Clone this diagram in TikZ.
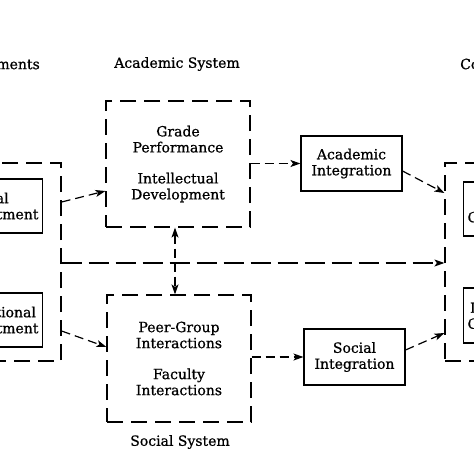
\documentclass[tikz,border=0pt]{standalone}
\usepackage{fontspec}
\setmainfont{DejaVu Serif}[BoldFont=DejaVu Serif, BoldFeatures={FakeBold=0.8}]
\usetikzlibrary{arrows.meta,calc}
\begin{document}
\begin{tikzpicture}[x=1pt,y=-1pt,
  every node/.style={font=\fontsize{14}{16}\selectfont\bfseries},
  tip/.tip={Stealth[length=10pt,width=7pt,inset=2.5pt]},
  dbox/.style={draw, dash pattern=on 16pt off 8pt, line width=1.2pt, inner sep=0, align=center},
  sbox/.style={draw, line width=1.1pt, align=center, inner xsep=4pt, inner ysep=0},
  lbl/.style={inner sep=0, align=center},
  arr/.style={-tip, line width=1.2pt, dash pattern=on 9pt off 5pt},
  darr/.style={tip-tip, line width=1.2pt, dash pattern=on 9pt off 5pt},
  longarr/.style={-tip, line width=1.2pt, dash pattern=on 20pt off 7pt},
]
\useasboundingbox (0,0) rectangle (474,474);
\clip (0,0) rectangle (474,474);
\fill[white] (0,0) rectangle (474,474);

% headers
\node[lbl, anchor=east] (hl) at (40,64) {Commitments};
\node[lbl] (ha) at (177,64) {Academic System};
\node[lbl, anchor=west] (hr) at (460,64) {Commitments};
\node[lbl] (hs) at (180,442) {Social System};

% outer commitment boxes
\node[dbox, minimum width=191pt, minimum height=198pt] (lout) at (-34.5,262) {};
\node[dbox, minimum width=159pt, minimum height=198pt] (rout) at (524.5,262) {};

% inner commitment boxes
\node[sbox, anchor=east, minimum height=54pt] (lg) at (43,206) {Goal\\Commitment};
\node[sbox, anchor=east, minimum height=54pt] (li) at (43,320) {Institutional\\Commitment};
\node[sbox, anchor=west, minimum height=54pt] (rg) at (463,209) {Goal\\Commitment};
\node[sbox, anchor=west, minimum height=55pt] (ri) at (463,315.5) {Institutional\\Commitment};

% systems
\node[dbox, minimum width=144pt, minimum height=126pt] (acad) at (178,164)
  {Grade\\Performance\\[15pt]Intellectual\\Development};
\node[dbox, minimum width=144pt, minimum height=127pt] (soc) at (179,358.5)
  {Peer-Group\\Interactions\\[15pt]Faculty\\Interactions};

% integration
\node[sbox, minimum width=101pt, minimum height=55pt] (ai) at (351.5,163.5) {Academic\\Integration};
\node[sbox, minimum width=101pt, minimum height=56pt] (si) at (354.5,357) {Social\\Integration};

% connectors
\draw[arr] (lout.east |- 0,202) -- (acad.west |- 0,191);
\draw[arr] (lout.east |- 0,331) -- (soc.west |- 0,347);
\draw[arr] (acad.east |- ai.west) -- (ai.west);
\draw[arr] (soc.east |- si.west) -- (si.west);
\draw[arr] (ai.east |- 0,171) -- (rout.west |- 0,193);
\draw[arr] (si.east |- 0,350) -- (rout.west |- 0,333);
\draw[longarr] (lout.east |- 0,263) -- (rout.west |- 0,263);
\draw[darr] (acad.south -| 175,0) -- (soc.north -| 175,0);
\end{tikzpicture}
\end{document}
